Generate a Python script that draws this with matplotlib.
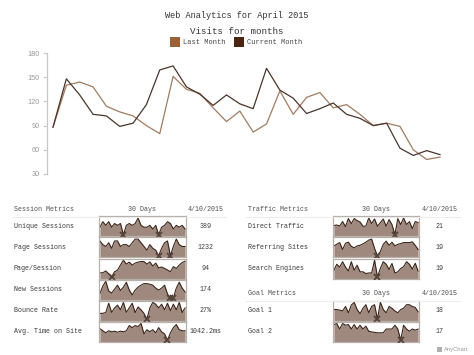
import matplotlib
matplotlib.use("Agg")
import matplotlib.pyplot as plt
from matplotlib.patches import Rectangle
import numpy as np

W, H = 474, 355

# ---------------- data ----------------
days = list(range(1, 31))
last_month = [88, 140, 144, 138, 114, 107, 102, 90, 80, 151, 135, 130, 112, 95, 108,
              82, 92, 133, 104, 125, 131, 112, 116, 104, 90, 93, 89, 60, 48, 51]
current_month = [88, 148, 128, 104, 102, 89, 93, 116, 159, 164, 138, 129, 115, 128, 117,
                 111, 161, 134, 124, 105, 111, 118, 104, 99, 90, 93, 62, 53, 59, 54]
y_ticks = [30, 60, 90, 120, 150, 180]

session_labels = ["Unique Sessions", "Page Sessions", "Page/Session",
                  "New Sessions", "Bounce Rate", "Avg. Time on Site"]
session_values = ["389", "1232", "94", "174", "27%", "1042.2ms"]
traffic_labels = ["Direct Traffic", "Referring Sites", "Search Engines"]
traffic_values = ["21", "19", "19"]
goal_labels = ["Goal 1", "Goal 2"]
goal_values = ["18", "17"]

unique_sessions = [4, 7, 5, 7, 4, 6, 5, 6, 0, 5, 6, 5, 6, 9, 5, 4, 4, 5, 3, 5,
                   0, 4, 5, 7, 6, 3, 5, 4, 5, 3]
page_sessions = [8, 6, 5, 7, 4, 8, 8, 5, 6, 6, 5, 7, 9, 9, 7, 5, 3, 6, 4, 3,
                 0, 4, 7, 8, 0, 5, 9, 6, 5, 5]
page_per_session = [2, 2.1, 3, 1.5, 0, 2.6, 3.4, 6, 8.5, 6.5, 7.5, 6, 7, 7.5, 7.8,
                    7.8, 6.5, 7.6, 5.5, 7, 4.5, 5, 4.3, 3.5, 2.6, 5.2, 4.3, 6, 7.3, 8]
new_sessions = [2.2, 6, 8.5, 3.5, 2.5, 4.5, 6.5, 3.8, 5.5, 8, 4, 1.5, 4, 5.5, 6.5,
                7.3, 7.3, 7, 6.5, 5, 4, 5, 6.5, 2, 0, 0, 5, 8, 5, 3]
bounce_rate = [3, 3.1, 3.5, 8.5, 3.6, 6, 7.5, 5, 9, 3.6, 6, 8.5, 3.5, 6.5, 5,
               3, 0, 6, 9, 8, 6, 8, 5, 8.5, 4.5, 8, 5, 9, 3.5, 6]
avg_time = [5.5, 4.5, 3.5, 4.5, 4, 4.3, 3.8, 4.3, 4, 4.5, 7, 6, 7, 6.5, 8,
            3, 5, 4, 5, 3.5, 6, 4, 3, 0, 3.5, 6, 7.5, 5, 4.5, 4.5]
direct_traffic = [4.5, 4.8, 4.3, 6.5, 4, 8, 5.5, 8, 7, 6.3, 4.2, 4.2, 8.3, 5.5, 7.8,
                  4.2, 6, 7.8, 4.2, 7.5, 5, 0, 8, 5, 8.3, 5, 6.5, 3, 6.5, 6]
referring_sites = [4.7, 5.5, 6.3, 3, 6, 6.5, 4.5, 3.8, 4.7, 5, 5.7, 6.5, 7.5, 8, 3.5,
                   0, 2, 5.5, 7, 5, 6.5, 4.7, 5.5, 5.8, 6.3, 6.3, 6.3, 6.7, 5, 3]
search_engines = [3.4, 6.5, 5, 7.8, 5, 3, 7.8, 3.4, 6, 2.6, 2.6, 1.7, 2, 2, 8.6,
                  0, 4.3, 7.8, 6.5, 3.8, 6.9, 2, 2.6, 4.3, 5.2, 7.8, 6.5, 4, 7, 3]
goal_1 = [5.3, 5.3, 5, 4.5, 7, 3.5, 7.8, 9.3, 5.3, 3, 6, 8, 3.5, 7, 8,
          0, 9.3, 5.3, 3.5, 7, 6, 4.5, 3.5, 5.3, 6, 8, 8, 7, 6.5, 4]
goal_2 = [7, 7.5, 5, 7.5, 6.7, 7, 5, 7, 5, 6.7, 5, 6.3, 4, 3.7, 3.5,
          3.3, 3.3, 3.3, 5, 5, 5, 6.7, 5, 0, 6.7, 5, 4, 5, 4.5, 5]

session_series = [unique_sessions, page_sessions, page_per_session,
                  new_sessions, bounce_rate, avg_time]
traffic_series = [direct_traffic, referring_sites, search_engines]
goal_series = [goal_1, goal_2]

# ---------------- style ----------------
MONO = ["Liberation Mono", "DejaVu Sans Mono"]
SANS = ["Liberation Sans", "DejaVu Sans"]
LAST_C = "#a07c60"
CUR_C = "#4a352c"
LAST_SW = "#9a6236"
CUR_SW = "#4a2512"
TXT = "#3a3a3a"
HDR = "#505050"

fig = plt.figure(figsize=(W / 100, H / 100), dpi=100)
fig.patch.set_facecolor("white")


def fx(x):
    return x / W


def fy(y):
    return 1 - y / H


def ftext(x, y, s, size, color=TXT, ha="left", family=MONO, **kw):
    fig.text(fx(x), fy(y), s, fontsize=size, color=color, ha=ha, va="center",
             family=family, **kw)


# ---------------- titles / legend ----------------
ftext(237, 16, "Web Analytics for April 2015", 6.2, color="#333333", ha="center")
ftext(237, 31, "Visits for months", 6.6, color="#333333", ha="center")

for (x0, col, lab) in [(170, LAST_SW, "Last Month"), (234, CUR_SW, "Current Month")]:
    fig.patches.append(Rectangle((fx(x0), fy(47)), 10 / W, 10 / H,
                                 transform=fig.transFigure, facecolor=col,
                                 edgecolor="none"))
    ftext(x0 + 13, 42, lab, 5.0, color="#444444")

# ---------------- main line chart ----------------
px_per = (440 - 53) / 29.0
ax_left, ax_right = 47, 446
ax = fig.add_axes([fx(ax_left), fy(174), (ax_right - ax_left) / W, 121 / H])
idx = np.arange(len(days))
ax.plot(idx, last_month, color=LAST_C, lw=0.9)
ax.plot(idx, current_month, color=CUR_C, lw=0.9)
ax.set_xlim(-(53 - ax_left) / px_per, 29 + (ax_right - 440) / px_per)
ax.set_ylim(30, 180)
ax.set_yticks(y_ticks)
ax.set_yticklabels([str(v) for v in y_ticks], family=SANS, fontsize=5.3, color="#9a9a9a")
ax.tick_params(axis="y", length=3, width=0.8, color="#c8c8c8", pad=2)
ax.set_xticks([])
for s in ["top", "right", "bottom"]:
    ax.spines[s].set_visible(False)
ax.spines["left"].set_color("#c8c8c8")
ax.spines["left"].set_linewidth(0.9)
ax.set_facecolor("none")

# ---------------- tables ----------------
AREA_C = "#9f897e"
LINE_C = "#3b2419"
BOX_C = "#b8b0ab"


def sparkline(x0, x1, yc, data):
    h = 20
    a = fig.add_axes([fx(x0), fy(yc + h / 2), (x1 - x0) / W, h / H])
    d = np.array(data, dtype=float)
    i = np.arange(len(d))
    lo, hi = d.min(), d.max()
    base = lo - (hi - lo) * 0.1
    a.fill_between(i, base, d, color=AREA_C, lw=0)
    a.plot(i, d, color=LINE_C, lw=0.8)
    mins = np.where(d == lo)[0]
    a.plot(mins, d[mins], ls="none", marker="x", ms=3.8, mew=1.3, color="#54433d",
           zorder=5)
    a.set_xlim(-0.3, len(d) - 0.7)
    a.set_ylim(base, hi + (hi - lo) * 0.1)
    a.set_xticks([])
    a.set_yticks([])
    for s in a.spines.values():
        s.set_color(BOX_C)
        s.set_linewidth(0.9)
    a.set_facecolor("white")


def header(xl, xmid, xval, y, title, line_x1):
    ftext(xl, y, title, 4.8, color=HDR)
    ftext(xmid, y, "30 Days", 4.8, color=HDR, ha="center")
    ftext(xval, y, "4/10/2015", 4.8, color=HDR, ha="center")
    fig.add_artist(plt.Line2D([fx(xl - 2), fx(line_x1)], [fy(y + 7), fy(y + 7)],
                              color="#ececec", lw=0.7, transform=fig.transFigure))


row_y = [226.3, 247.4, 268.5, 289.6, 310.7, 331.8]

# left: session metrics
header(14, 142, 206, 209.7, "Session Metrics", 226)
for k, (lab, val, ser) in enumerate(zip(session_labels, session_values, session_series)):
    y = row_y[k]
    ftext(14, y, lab, 4.8)
    sparkline(99, 186, y, ser)
    ftext(206, y, val, 4.8, ha="center")

# right: traffic metrics
header(248, 376, 440, 209.7, "Traffic Metrics", 460)
for k, (lab, val, ser) in enumerate(zip(traffic_labels, traffic_values, traffic_series)):
    y = row_y[k]
    ftext(248, y, lab, 4.8)
    sparkline(333, 419, y, ser)
    ftext(440, y, val, 4.8, ha="center")

# right: goal metrics
header(248, 376, 440, 293.7, "Goal Metrics", 460)
for k, (lab, val, ser) in enumerate(zip(goal_labels, goal_values, goal_series)):
    y = row_y[4 + k]
    ftext(248, y, lab, 4.8)
    sparkline(333, 419, y, ser)
    ftext(440, y, val, 4.8, ha="center")

# credit
fig.patches.append(Rectangle((fx(437), fy(351.5)), 5 / W, 5 / H,
                             transform=fig.transFigure, facecolor="#b0b0b0",
                             edgecolor="none"))
ftext(444, 349, "AnyChart", 4.2, color="#9a9a9a", family=SANS)

fig.savefig("out.png", dpi=100, facecolor="white")
